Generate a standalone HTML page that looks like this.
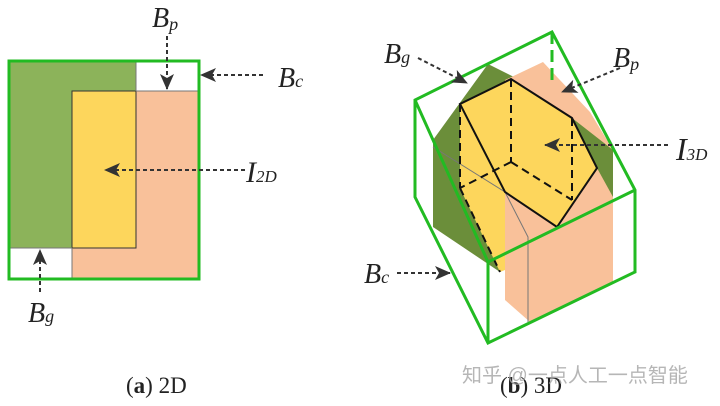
<!DOCTYPE html>
<html><head><meta charset="utf-8"><style>
html,body{margin:0;padding:0;background:#fff;}
svg{display:block}
text{font-family:"Liberation Serif",serif;font-style:italic;fill:#222}
</style></head><body>
<svg width="720" height="406" viewBox="0 0 720 406" xmlns="http://www.w3.org/2000/svg">
<defs>
<marker id="b" markerWidth="16" markerHeight="14" refX="15" refY="7" orient="auto" markerUnits="userSpaceOnUse">
<path d="M0,0 L16,7 L0,14 L4,7 z" fill="#333"/></marker>
</defs>
<!-- 2D -->
<rect x="10" y="61" width="126" height="187" fill="#8cb35a"/>
<rect x="72" y="91" width="126" height="187" fill="#f9c19a"/>
<rect x="72" y="91" width="64" height="157" fill="#fdd65c" stroke="#333" stroke-width="1"/>
<line x1="10" y1="248" x2="72" y2="248" stroke="#777"/>
<line x1="72" y1="248" x2="72" y2="278" stroke="#777"/>
<line x1="136" y1="61" x2="136" y2="91" stroke="#777"/>
<line x1="136" y1="91" x2="198" y2="91" stroke="#777"/>
<rect x="9" y="61" width="190" height="218" fill="none" stroke="#22bb22" stroke-width="3"/>
<g stroke="#333" stroke-width="2" stroke-dasharray="4,3" fill="none">
<line x1="167" y1="36" x2="167" y2="89" marker-end="url(#b)"/>
<line x1="263" y1="75" x2="201" y2="75" marker-end="url(#b)"/>
<line x1="245" y1="170" x2="105" y2="170" marker-end="url(#b)"/>
<line x1="40" y1="292" x2="40" y2="250" marker-end="url(#b)"/>
</g>
<text x="152" y="27" font-size="28">B<tspan font-size="18" dy="3">p</tspan></text>
<text x="278" y="87" font-size="28">B<tspan font-size="18" dy="0">c</tspan></text>
<text x="246" y="182" font-size="30">I<tspan font-size="17" dy="0">2D</tspan></text>
<text x="28" y="322" font-size="28">B<tspan font-size="18" dy="0">g</tspan></text>
<text x="126" y="393" font-size="23" style="font-style:normal">(<tspan font-weight="bold">a</tspan>) 2D</text>
<!-- 3D -->
<polygon points="488,64 433,140 433,227 500,272 560,230 613,197 613,150 572,118 520,80" fill="#6b8e3a"/>
<polygon points="543,62 505,80 505,300 530,322 613,282 613,197 613,150 590,112" fill="#f9c19a"/>
<polygon points="572,118 613,150 613,197 597,168" fill="#6b8e3a"/>
<polygon points="460,104 505,192 505,270 500,272 460,188" fill="#fdd65c"/>
<polygon points="511,79 460,104 505,192 557,227 597,168 572,118" fill="#fdd65c"/>
<g stroke="#777" stroke-width="1" fill="none">
<polyline points="433,147 505,192 528,237 528,322"/>
</g>
<g stroke="#111" stroke-width="2" fill="none">
<polygon points="511,79 460,104 505,192 557,227 597,168 572,118"/>
</g>
<g stroke="#111" stroke-width="2" fill="none" stroke-dasharray="8,5">
<line x1="511" y1="79" x2="511" y2="162"/>
<line x1="572" y1="118" x2="572" y2="200"/>
<line x1="511" y1="162" x2="460" y2="188"/>
<line x1="511" y1="162" x2="572" y2="200"/>
<line x1="460" y1="104" x2="460" y2="188"/>
<line x1="460" y1="188" x2="500" y2="272"/>
</g>
<g stroke="#22bb22" stroke-width="3" fill="none" stroke-linejoin="miter">
<polygon points="552,32 415,100 415,197 488,343 635,272 635,190"/>
<polyline points="415,100 488,262 635,190"/>
<line x1="488" y1="262" x2="488" y2="343"/>
<line x1="552" y1="32" x2="552" y2="83" stroke-dasharray="12,6"/>
</g>
<g stroke="#333" stroke-width="2" stroke-dasharray="4,3" fill="none">
<line x1="418" y1="58" x2="467" y2="83" marker-end="url(#b)"/>
<line x1="620" y1="68" x2="562" y2="92" marker-end="url(#b)"/>
<line x1="668" y1="145" x2="545" y2="145" marker-end="url(#b)"/>
<line x1="397" y1="273" x2="450" y2="273" marker-end="url(#b)"/>
</g>
<text x="384" y="63" font-size="28">B<tspan font-size="18" dy="0">g</tspan></text>
<text x="613" y="67" font-size="28">B<tspan font-size="18" dy="3">p</tspan></text>
<text x="676" y="160" font-size="32">I<tspan font-size="17" dy="0">3D</tspan></text>
<text x="364" y="283" font-size="28">B<tspan font-size="18" dy="0">c</tspan></text>
<text x="500" y="393" font-size="23" style="font-style:normal">(<tspan font-weight="bold">b</tspan>) 3D</text>
<text x="462" y="382" font-size="20" style="font-style:normal;font-family:'Liberation Sans','Noto Sans CJK SC',sans-serif;fill:#aaa;opacity:0.85">知乎 @一点人工一点智能</text>
</svg>
</body></html>
